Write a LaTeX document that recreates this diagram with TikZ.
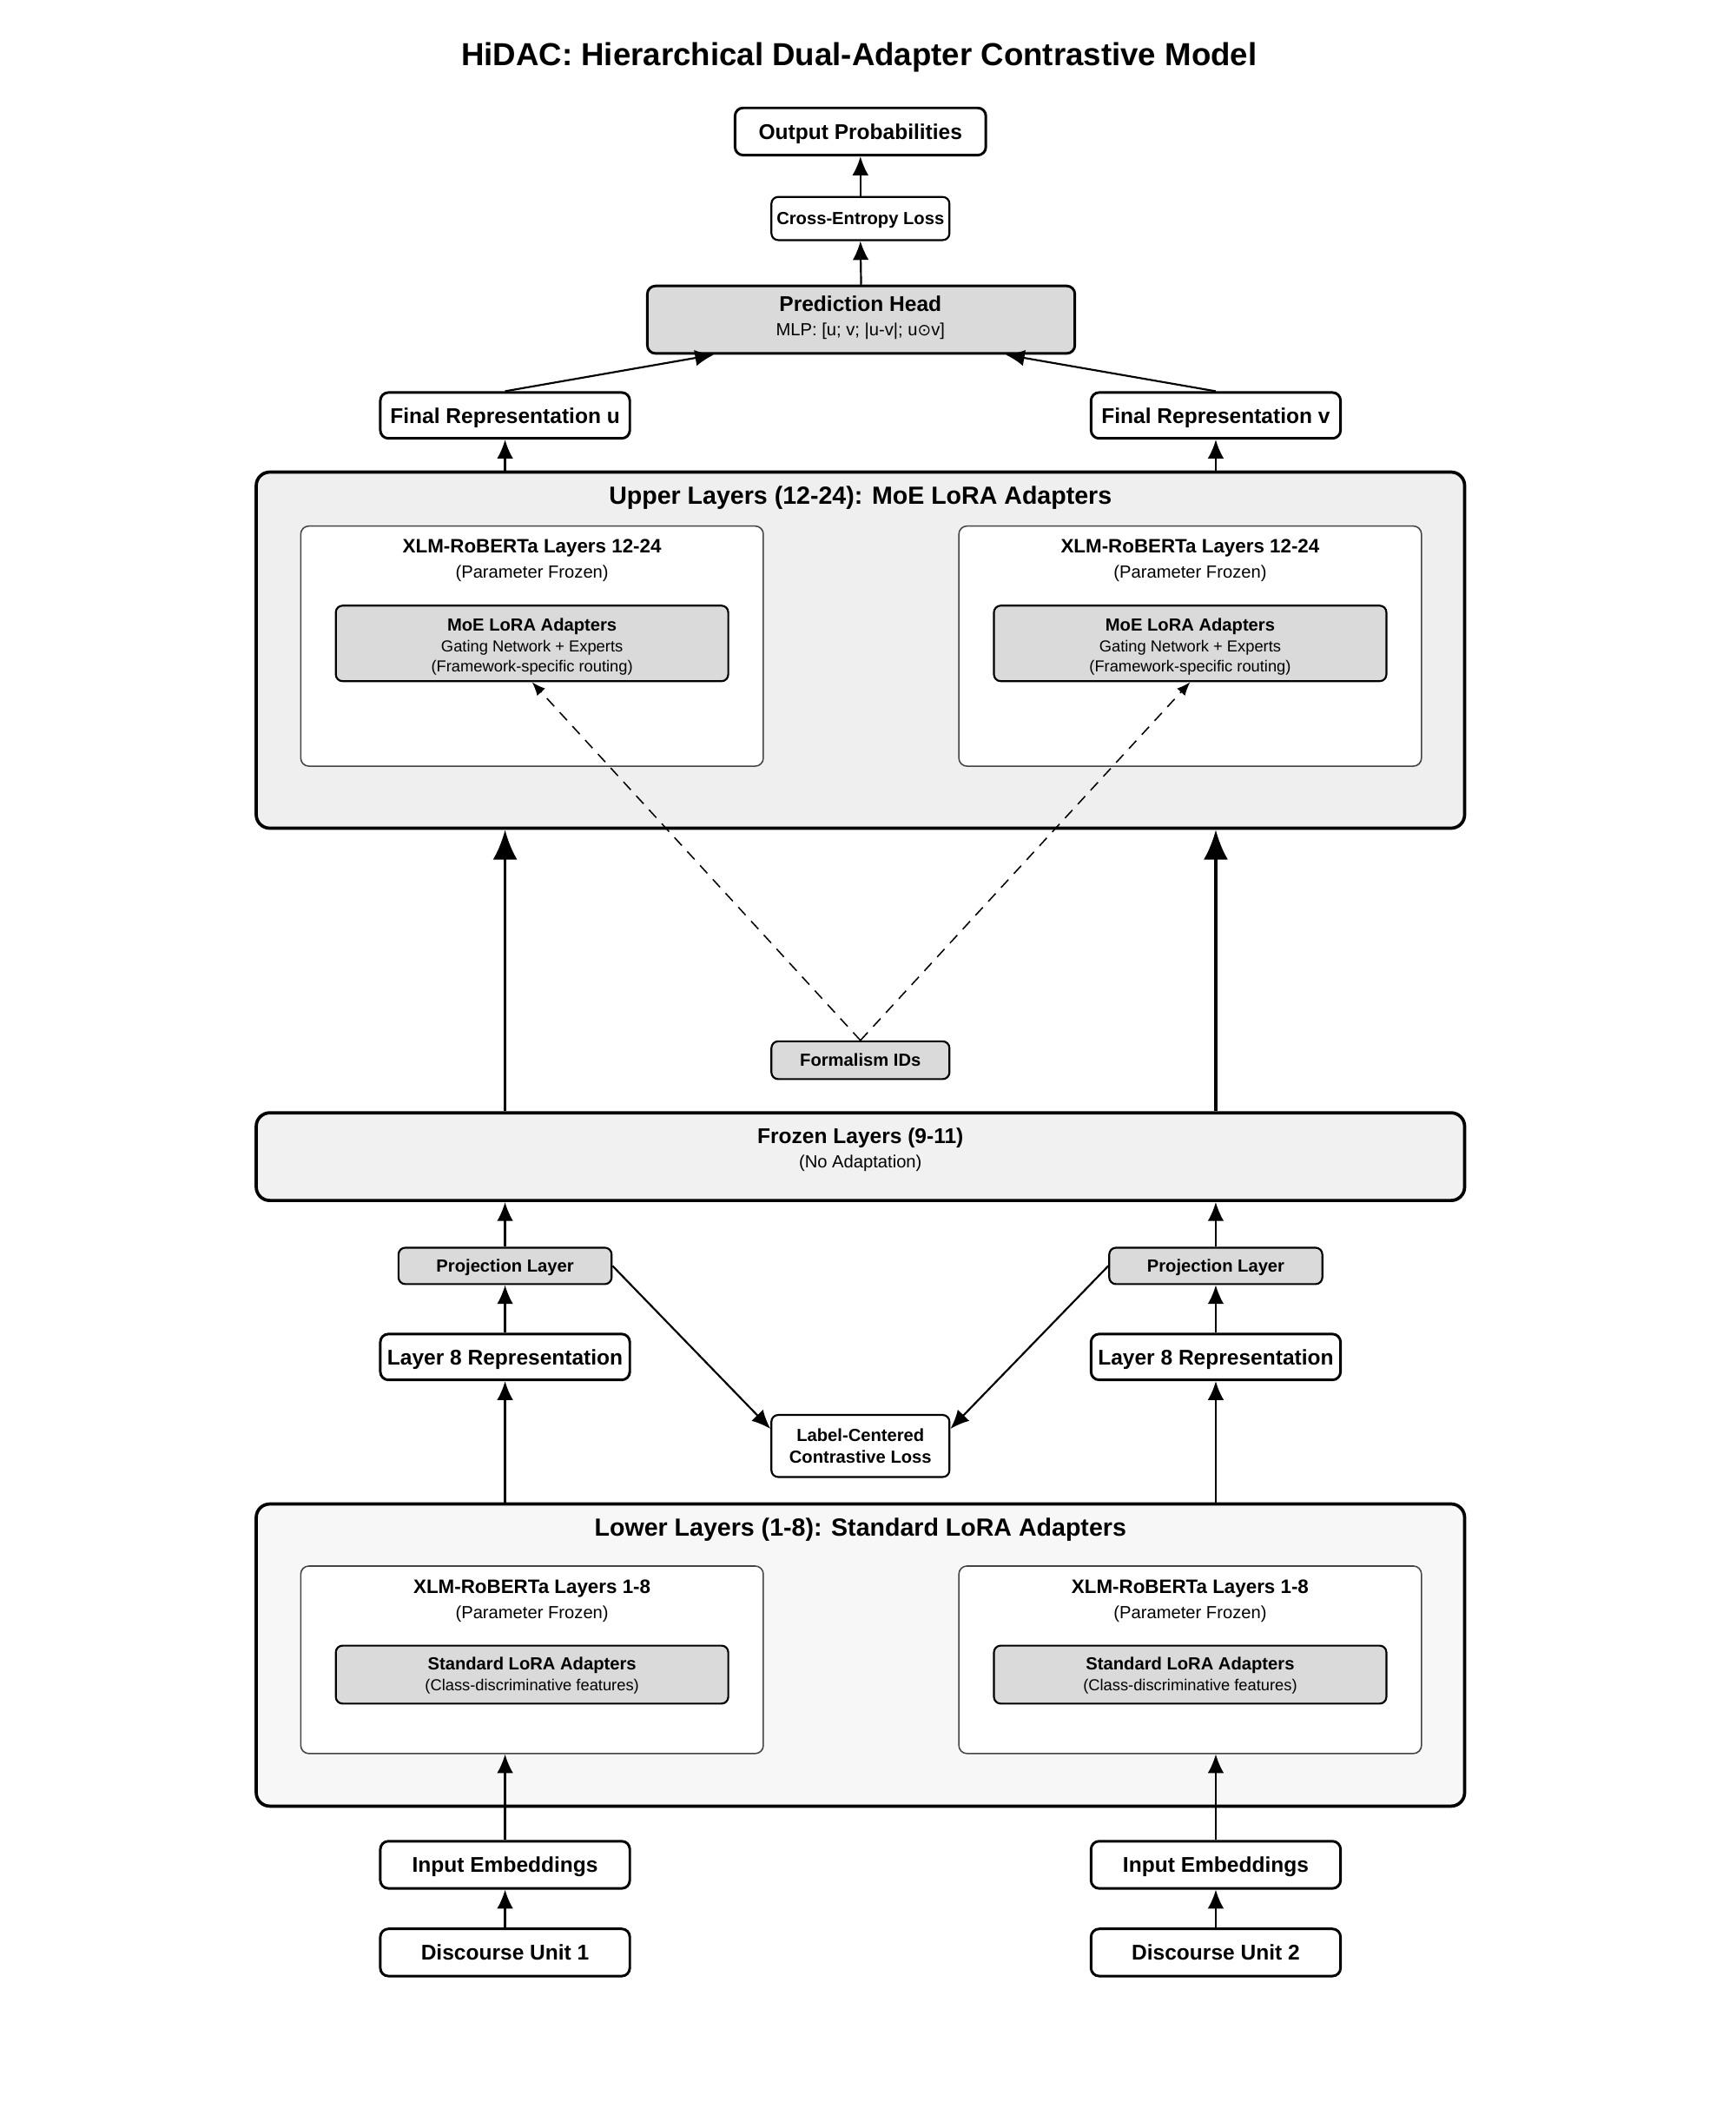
\documentclass[tikz,border=0pt]{standalone}
\usepackage{fontspec}
\setmainfont{Liberation Sans}
\newfontfamily\dejavu{DejaVu Sans}
\usetikzlibrary{arrows.meta,calc}
\newcommand{\myfs}[1]{\fontsize{#1}{#1}\selectfont}
\definecolor{upfill}{HTML}{EFEFEF}
\definecolor{lowfill}{HTML}{F7F7F7}
\definecolor{frfill}{HTML}{F1F1F1}
\definecolor{grayfill}{HTML}{DADADA}
\definecolor{bordergray}{HTML}{444444}
\begin{document}
\begin{tikzpicture}[x=0.5pt,y=-0.5pt,
  wh/.style 2 args={minimum width=#1*0.5pt, minimum height=#2*0.5pt},
  txt/.style={inner sep=0pt, align=center, text depth=0pt},
  box/.style={draw, line width=0.95pt, rounded corners=3pt, fill=white, inner sep=0pt, text depth=0pt, font=\bfseries\myfs{7.9}},
  sbox/.style={draw, line width=0.7pt, rounded corners=2.5pt, fill=white, inner sep=0pt, text depth=0pt, font=\bfseries\myfs{6.5}},
  gbox/.style={draw, line width=0.7pt, rounded corners=2.5pt, fill=grayfill, inner sep=0pt, text depth=0pt, font=\bfseries\myfs{6.5}},
  grp/.style={draw, line width=1.2pt, rounded corners=5pt, inner sep=0pt},
  innerbox/.style={draw=bordergray, line width=0.5pt, rounded corners=3pt, fill=white, inner sep=0pt},
  ititle/.style={txt, font=\bfseries\myfs{7.2}},
  isub/.style={txt, font=\myfs{6.5}},
  gtitle/.style={txt, font=\bfseries\myfs{9.2}},
  arr/.style={line width=0.7pt, -{Latex[length=7pt,width=6pt]}},
  bigarr/.style={line width=1.1pt, -{Latex[length=11pt,width=9pt]}},
  darr/.style={line width=0.5pt, dash pattern=on 4pt off 3pt, -{Latex[length=5pt,width=4pt]}}
]
\useasboundingbox[fill=white] (0,0) rectangle (1287,1568);

% title
\node[txt, font=\bfseries\myfs{11.8}] (title) at (637,40) {HiDAC: Hierarchical Dual-Adapter Contrastive Model};

% top
\node[box, wh={186}{35}] (op) at (638,97.5) {Output Probabilities};
\node[sbox, wh={132}{32}] (ce) at (638,162) {Cross-Entropy Loss};
\node[draw, line width=0.95pt, rounded corners=3pt, fill=grayfill, wh={317}{50}] (ph) at (638.5,237) {};
\node[txt, font=\bfseries\myfs{7.9}] (phT) at (638,225) {Prediction Head};
\node[txt, font=\myfs{6.5}] (phS) at (638,244) {MLP: [u; v; |u-v|; u{\dejavu\myfs{6}⊙}v]};

% upper group
\node[grp, fill=upfill, wh={896}{264}] (up) at (638,482) {};
\node[gtitle] (upT) at (638,367) {Upper Layers (12-24): MoE LoRA Adapters};

% frozen
\node[grp, fill=frfill, wh={896}{65}] (fr) at (638,857.5) {};
\node[txt, font=\bfseries\myfs{7.9}] (frT) at (638,842) {Frozen Layers (9-11)};
\node[txt, font=\myfs{6.5}] (frS) at (638,861) {(No Adaptation)};

% lower group
\node[grp, fill=lowfill, wh={896}{224}] (low) at (638,1227) {};
\node[gtitle] (lowT) at (638,1132) {Lower Layers (1-8): Standard LoRA Adapters};

% formalism and contrastive loss
\node[gbox, wh={132}{28}] (fid) at (638,786) {Formalism IDs};
\node[sbox, text depth={}, wh={132}{46}, align=center] (lc) at (638,1072) {Label-Centered\\[1.5pt]Contrastive Loss};

% columns
\foreach \s/\mx/\ix/\ux in {L/374.5/394.5/u, R/901.5/882.5/v} {
  \node[box, wh={185}{34}] (fu\s) at (\mx,308) {Final Representation \ux};
  % upper inner
  \node[innerbox, wh={343}{178}] (in\s) at (\ix,479) {};
  \node[ititle] (inT\s) at (\ix,405) {XLM-RoBERTa Layers 12-24};
  \node[isub] (inS\s) at (\ix,424) {(Parameter Frozen)};
  \node[gbox, wh={291}{56}] (moe\s) at (\ix,477) {};
  \node[txt, font=\bfseries\myfs{6.5}] (moeT\s) at (\ix,463) {MoE LoRA Adapters};
  \node[txt, font=\myfs{5.9}] (moeA\s) at (\ix,479) {Gating Network + Experts};
  \node[txt, font=\myfs{5.9}] (moeB\s) at (\ix,494) {(Framework-specific routing)};
  % projection and layer 8
  \node[gbox, wh={158}{27}] (p\s) at (\mx,938.5) {Projection Layer};
  \node[box, wh={185}{34}] (l8\s) at (\mx,1006) {Layer 8 Representation};
  % lower inner
  \node[innerbox, wh={343}{139}] (li\s) at (\ix,1230.5) {};
  \node[ititle] (liT\s) at (\ix,1176) {XLM-RoBERTa Layers 1-8};
  \node[isub] (liS\s) at (\ix,1195) {(Parameter Frozen)};
  \node[gbox, wh={291}{43}] (std\s) at (\ix,1241.5) {};
  \node[txt, font=\bfseries\myfs{6.5}] (stdT\s) at (\ix,1233) {Standard LoRA Adapters};
  \node[txt, font=\myfs{5.9}] (stdS\s) at (\ix,1249) {(Class-discriminative features)};
  % inputs
  \node[box, wh={185}{35}] (ie\s) at (\mx,1382.5) {Input Embeddings};
}
\node[box, wh={185}{35}] (duL) at (374.5,1447.5) {Discourse Unit 1};
\node[box, wh={185}{35}] (duR) at (901.5,1447.5) {Discourse Unit 2};

% connectors
\draw[arr] (ce.north) -- (op.south);
\draw[arr] (ph.north) -- (ce.south);
\draw[arr] (fuL.north) -- ($(ph.south west)!0.158!(ph.south east)$);
\draw[arr] (fuR.north) -- ($(ph.south west)!0.836!(ph.south east)$);
\foreach \s in {L,R} {
  \draw[arr] (fu\s.south |- up.north) -- (fu\s.south);
  \draw[bigarr] (fu\s.south |- fr.north) -- (fu\s.south |- up.south);
  \draw[darr] (fid.north) -- (moe\s.south);
  \draw[arr] (p\s.north) -- (p\s.north |- fr.south);
  \draw[arr] (l8\s.north) -- (p\s.south);
  \draw[arr] (l8\s.south |- low.north) -- (l8\s.south);
  \draw[arr] (ie\s.north) -- (ie\s.north |- li\s.south);
  \draw[arr] (du\s.north) -- (ie\s.south);
}
\draw[arr] (pL.east) -- ($(lc.north west)+(0,11)$);
\draw[arr] (pR.west) -- ($(lc.north east)+(0,11)$);
\end{tikzpicture}
\end{document}
